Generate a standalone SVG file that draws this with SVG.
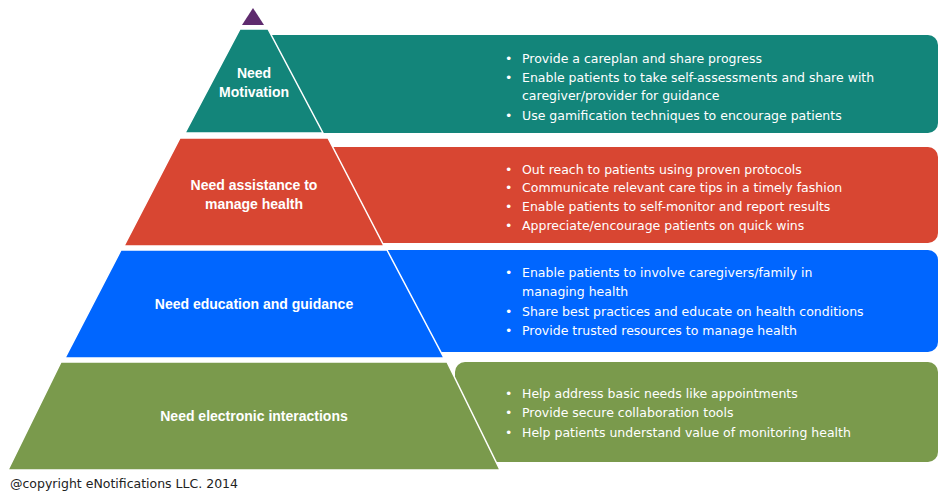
<svg xmlns="http://www.w3.org/2000/svg" width="940" height="497" viewBox="0 0 940 497">
<style>
.b{font-family:"DejaVu Sans",Verdana,sans-serif;font-size:12.5px;fill:#fff}
.l{font-family:"Liberation Sans",Arial,sans-serif;font-size:14px;font-weight:bold;fill:#fff;text-anchor:middle}
.c{font-family:"DejaVu Sans",Verdana,sans-serif;font-size:12.5px;fill:#222}
</style>
<rect width="940" height="497" fill="#fff"/>
<g id="box1"><rect x="262" y="35" width="676" height="98" rx="10" fill="#13857A"/>
<text class="b"><tspan x="505" y="63">•</tspan><tspan x="522" y="63">Provide a careplan  and share progress</tspan><tspan x="505" y="82">•</tspan><tspan x="522" y="82">Enable patients to take self-assessments  and share with</tspan><tspan x="522" y="100">caregiver/provider for guidance</tspan><tspan x="505" y="120">•</tspan><tspan x="522" y="120">Use gamification techniques to encourage patients</tspan></text></g>
<g id="box2"><rect x="322" y="147" width="616" height="96" rx="10" fill="#D84632"/>
<text class="b"><tspan x="505" y="174">•</tspan><tspan x="522" y="174">Out reach to patients using proven protocols</tspan><tspan x="505" y="192">•</tspan><tspan x="522" y="192">Communicate relevant care tips in a timely fashion</tspan><tspan x="505" y="211">•</tspan><tspan x="522" y="211">Enable patients to self-monitor and report results</tspan><tspan x="505" y="230">•</tspan><tspan x="522" y="230">Appreciate/encourage patients on quick wins</tspan></text></g>
<g id="box3"><rect x="378" y="250" width="560" height="102" rx="10" fill="#0066FF"/>
<text class="b"><tspan x="505" y="277">•</tspan><tspan x="522" y="277">Enable patients to involve caregivers/family in</tspan><tspan x="522" y="296">managing health</tspan><tspan x="505" y="316">•</tspan><tspan x="522" y="316">Share best practices and educate on health conditions</tspan><tspan x="505" y="335">•</tspan><tspan x="522" y="335">Provide trusted resources to manage health</tspan></text></g>
<g id="box4"><rect x="455" y="362" width="483" height="100" rx="10" fill="#7A9A4C"/>
<text class="b"><tspan x="505" y="398">•</tspan><tspan x="522" y="398">Help address basic needs like appointments</tspan><tspan x="505" y="417">•</tspan><tspan x="522" y="417">Provide secure collaboration tools</tspan><tspan x="505" y="437">•</tspan><tspan x="522" y="437">Help patients understand value of monitoring health</tspan></text></g>
<g id="apex"><polygon points="253,8 264,25 242,25" fill="#5E2B6E"/></g>
<g id="tier1"><polygon points="240,29 268,29 323,133 185,133" fill="#13857A" stroke="#fff" stroke-width="1.5"/><text class="l"><tspan x="254" y="78">Need</tspan><tspan x="254" y="97">Motivation</tspan></text></g>
<g id="tier2"><polygon points="180,138 328,138 384,246 124,246" fill="#D84632" stroke="#fff" stroke-width="1.5"/><text class="l"><tspan x="254" y="190">Need assistance to</tspan><tspan x="254" y="209">manage health</tspan></text></g>
<g id="tier3"><polygon points="121,250 387,250 444,358 65,358" fill="#0066FF" stroke="#fff" stroke-width="1.5"/><text class="l" x="254" y="309">Need education and guidance</text></g>
<g id="tier4"><polygon points="61,362 447,362 500,470 8,470" fill="#7A9A4C" stroke="#fff" stroke-width="1.5"/><text class="l" x="254" y="421">Need electronic interactions</text></g>
<g id="connectors"></g>
<text class="c" x="10" y="488">@copyright eNotifications LLC. 2014</text>
</svg>
